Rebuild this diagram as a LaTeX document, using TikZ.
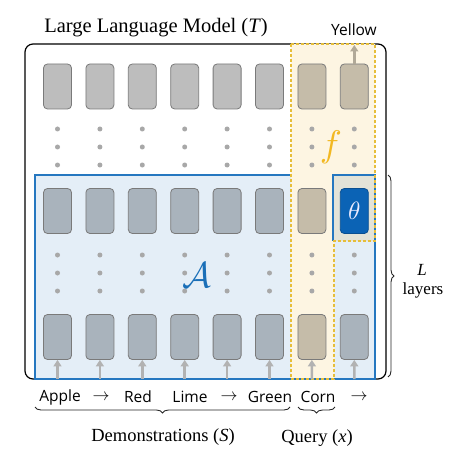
\documentclass[tikz,border=0pt]{standalone}
\usepackage{fontspec}
\setmainfont{Liberation Serif}
\newfontfamily\lblfont{Open Sans}
\usetikzlibrary{decorations.pathreplacing,arrows.meta}
\definecolor{blkline}{HTML}{7A7A7A}
\definecolor{topgray}{HTML}{BDBDBD}
\definecolor{bluegray}{HTML}{A9B3BC}
\definecolor{tan}{HTML}{C5BCA9}
\definecolor{thetablue}{HTML}{0B63B5}
\definecolor{bluefill}{HTML}{E4EEF7}
\definecolor{blueline}{HTML}{2577C0}
\definecolor{yelfill}{HTML}{FDF5E2}
\definecolor{yelline}{HTML}{E6BE3A}
\definecolor{thetafill}{HTML}{E3E3D8}
\definecolor{dotgray}{HTML}{A8A8A8}
\definecolor{arrowgray}{HTML}{B2B2B2}
\definecolor{ftext}{HTML}{F2B822}
\definecolor{atext}{HTML}{1A6FB8}
\begin{document}
\begin{tikzpicture}[x=1pt,y=-1pt,
  blk/.style={draw=blkline, rounded corners=4pt, minimum width=28pt, minimum height=45pt, inner sep=0pt, line width=0.8pt},
  inarrow/.style={draw=arrowgray, line width=2.6pt, -{Triangle[width=8pt,length=6.5pt]}},
  lbl/.style={font=\lblfont\fontsize{15.5}{18}\selectfont, inner sep=0pt, text=black},
  arr/.style={inner sep=0pt, scale=1.7},
  bracestyle/.style={draw=black!85, line width=0.9pt, decorate, decoration={brace, amplitude=6pt}},
  dot/.style={fill=dotgray}
]
\useasboundingbox (0,0) rectangle (456,457);
% outer box
\draw[line width=1.2pt, rounded corners=8pt, fill=white] (25,44) rectangle (386,379);
% blue region
\fill[bluefill] (35,175) rectangle (375,379);
% yellow region
\fill[yelfill] (291,44) -- (375,44) -- (375,241) -- (334,241) -- (334,379) -- (291,379) -- cycle;
% theta box
\fill[thetafill] (333,175) rectangle (375,241);
% blue outlines
\draw[blueline, line width=1.2pt] (291,175) -- (35,175) -- (35,379) -- (375,379) -- (375,175) -- (333,175) -- (333,241);
% yellow dashed outline
\draw[yelline, line width=1.3pt, dash pattern=on 3pt off 2pt] (291,44) -- (375,44) -- (375,241) -- (334,241) -- (334,379) -- (291,379) -- cycle;
% dots
\foreach \i in {1,...,8}{
  \pgfmathsetmacro{\cx}{57.5+(\i-1)*42.4}
  \foreach \yy in {129,147,165,255,273,291}{
    \fill[dot] (\cx,\yy) circle (2.5pt);
  }
}
% blocks
\foreach \i in {1,...,6}{
  \pgfmathsetmacro{\cx}{57.5+(\i-1)*42.4}
  \node[blk, fill=topgray] (b-1-\i) at (\cx,86.5) {};
  \node[blk, fill=bluegray] (b-2-\i) at (\cx,211) {};
  \node[blk, fill=bluegray] (b-3-\i) at (\cx,337) {};
}
\node[blk, fill=tan] (b-1-7) at (311.9,86.5) {};
\node[blk, fill=tan] (b-2-7) at (311.9,211) {};
\node[blk, fill=tan] (b-3-7) at (311.9,337) {};
\node[blk, fill=tan] (b-1-8) at (354.3,86.5) {};
\node[blk, draw=thetablue!80!black, fill=thetablue] (b-2-8) at (354.3,211) {};
\node[text=blue!8, inner sep=0pt, scale=2.5] (theta) at (b-2-8) {$\theta$};
\node[blk, fill=bluegray] (b-3-8) at (354.3,337) {};
% input arrows
\foreach \i in {1,...,8}{
  \pgfmathsetmacro{\cx}{57.5+(\i-1)*42.4}
  \coordinate (in-\i) at (\cx,379);
  \draw[inarrow] (in-\i) -- (b-3-\i.south);
}
% output arrow
\coordinate (out) at (354.3,45);
\draw[draw=tan!90!black, line width=2.6pt, -{Triangle[width=8pt,length=6.5pt]}] (b-1-8.north) -- (out);
% symbols
\node[text=ftext, inner sep=0pt, scale=3.7] (fsym) at (331,147) {$f$};
\node[text=atext, inner sep=0pt, scale=3.6] (asym) at (197,275) {$\mathcal{A}$};
% title and labels
\node[inner sep=0pt] (title) at (156,28) {\fontsize{20.5}{24}\selectfont Large Language Model (\textit{T})};
\node[lbl] (yellow) at (354,30) {Yellow};
\node[lbl] (apple) at (60,397) {Apple};
\node[arr] (ar1) at (101,397) {$\rightarrow$};
\node[lbl] (red) at (138,397) {Red};
\node[lbl] (lime) at (190,397) {Lime};
\node[arr] (ar2) at (229,397) {$\rightarrow$};
\node[lbl] (green) at (270,397) {Green};
\node[lbl] (corn) at (318,397) {Corn};
\node[arr] (ar3) at (359,397) {$\rightarrow$};
% braces
\coordinate (dbl) at (35,407);
\coordinate (dbr) at (290,407);
\coordinate (qbl) at (298,407);
\coordinate (qbr) at (335,407);
\draw[bracestyle] (dbr) -- (dbl);
\draw[bracestyle] (qbr) -- (qbl);
\node[inner sep=0pt] (demo) at (163,437) {\fontsize{18.5}{22}\selectfont Demonstrations (\textit{S})};
\node[inner sep=0pt] (query) at (317,438) {\fontsize{18.5}{22}\selectfont Query (\textit{x})};
% right brace
\coordinate (rbt) at (388,175);
\coordinate (rbb) at (388,377);
\draw[bracestyle] (rbt) -- (rbb);
\node[inner sep=0pt] (lsym) at (422,270) {\fontsize{17}{20}\selectfont\textit{L}};
\node[inner sep=0pt] (layers) at (423,290) {\fontsize{17}{20}\selectfont layers};
\end{tikzpicture}
\end{document}
